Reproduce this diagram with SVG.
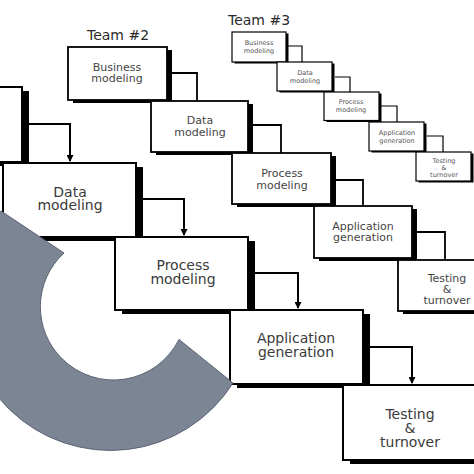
<svg xmlns="http://www.w3.org/2000/svg" width="474" height="474" viewBox="0 0 474 474">
<defs>
<style>
.box1{fill:#fff;stroke:#000;stroke-width:2}
.box2{fill:#fff;stroke:#000;stroke-width:1.8}
.box3{fill:#fff;stroke:#000;stroke-width:1.2}
.sh{fill:#000}
.c1{fill:none;stroke:#000;stroke-width:2}
.c2{fill:none;stroke:#000;stroke-width:1.8}
.c3{fill:none;stroke:#000;stroke-width:1.2}
.t1{font-family:"DejaVu Sans",sans-serif;font-size:14px;fill:#3a3a3a;text-anchor:middle}
.t2{font-family:"DejaVu Sans",sans-serif;font-size:11px;fill:#444;text-anchor:middle}
.t3{font-family:"DejaVu Sans",sans-serif;font-size:6.5px;fill:#555;text-anchor:middle}
.lbl{font-family:"DejaVu Sans",sans-serif;font-size:14px;fill:#2a2a2a}
</style>
<marker id="arr" markerWidth="7" markerHeight="7" refX="6" refY="3.5" orient="auto" markerUnits="userSpaceOnUse">
<path d="M0,0 L7,3.5 L0,7 Z" fill="#000"/>
</marker>
</defs>
<rect width="474" height="474" fill="#fff"/>

<text class="lbl" x="87" y="40">Team #2</text>
<text class="lbl" x="228" y="25">Team #3</text>

<g id="connectors">
<path class="c1" d="M29,124 H70 V161" marker-end="url(#arr)"/>
<path class="c1" d="M143,199 H184 V235" marker-end="url(#arr)"/>
<path class="c1" d="M255,273 H298 V308" marker-end="url(#arr)"/>
<path class="c1" d="M370,347 H412 V383" marker-end="url(#arr)"/>
<path class="c2" d="M171,73 H197 V101"/>
<path class="c2" d="M252,125 H281 V153"/>
<path class="c2" d="M336,180 H363 V206"/>
<path class="c2" d="M417,232 H445 V260"/>
<path class="c3" d="M288,46 H302 V62"/>
<path class="c3" d="M335,77 H350 V92"/>
<path class="c3" d="M381,106 H397 V122"/>
<path class="c3" d="M427,136 H443 V152"/>
</g>

<g id="t1-business">
<rect class="sh" x="-73" y="91" width="102" height="75"/>
<rect class="box1" x="-80" y="87" width="102" height="75"/>
</g>
<g id="t1-data">
<rect class="sh" x="10" y="167" width="133" height="74"/>
<rect class="box1" x="3" y="163" width="133" height="74"/>
<text class="t1" y="197"><tspan x="70">Data</tspan><tspan x="70" dy="13">modeling</tspan></text>
</g>
<g id="t1-process">
<rect class="sh" x="122" y="241" width="133" height="73"/>
<rect class="box1" x="115" y="237" width="133" height="73"/>
<text class="t1" y="270"><tspan x="183">Process</tspan><tspan x="183" dy="14">modeling</tspan></text>
</g>
<g id="t1-application">
<rect class="sh" x="237" y="314" width="133" height="74"/>
<rect class="box1" x="230" y="310" width="133" height="74"/>
<text class="t1" y="343"><tspan x="296">Application</tspan><tspan x="296" dy="14">generation</tspan></text>
</g>
<g id="t1-testing">
<rect class="sh" x="350" y="389" width="160" height="75"/>
<rect class="box1" x="343" y="385" width="160" height="75"/>
<text class="t1" y="419"><tspan x="410">Testing</tspan><tspan x="410" dy="14">&amp;</tspan><tspan x="410" dy="14">turnover</tspan></text>
</g>

<g id="t2-business">
<rect class="sh" x="73" y="50" width="99" height="53"/>
<rect class="box2" x="68" y="47" width="99" height="53"/>
<text class="t2" y="71"><tspan x="117">Business</tspan><tspan x="117" dy="11">modeling</tspan></text>
</g>
<g id="t2-data">
<rect class="sh" x="156" y="104" width="97" height="51"/>
<rect class="box2" x="151" y="101" width="97" height="51"/>
<text class="t2" y="124"><tspan x="200">Data</tspan><tspan x="200" dy="12">modeling</tspan></text>
</g>
<g id="t2-process">
<rect class="sh" x="237" y="156" width="99" height="51"/>
<rect class="box2" x="232" y="153" width="99" height="51"/>
<text class="t2" y="177"><tspan x="282">Process</tspan><tspan x="282" dy="12">modeling</tspan></text>
</g>
<g id="t2-application">
<rect class="sh" x="319" y="209" width="98" height="52"/>
<rect class="box2" x="314" y="206" width="98" height="52"/>
<text class="t2" y="230"><tspan x="363">Application</tspan><tspan x="363" dy="11">generation</tspan></text>
</g>
<g id="t2-testing">
<rect class="sh" x="403" y="263" width="100" height="51"/>
<rect class="box2" x="398" y="260" width="100" height="51"/>
<text class="t2" y="282"><tspan x="447">Testing</tspan><tspan x="447" dy="11">&amp;</tspan><tspan x="447" dy="11">turnover</tspan></text>
</g>

<g id="t3-business">
<rect class="sh" x="234.5" y="33.5" width="54" height="30"/>
<rect class="box3" x="232" y="32" width="54" height="30"/>
<text class="t3" y="45"><tspan x="259">Business</tspan><tspan x="259" dy="8">modeling</tspan></text>
</g>
<g id="t3-data">
<rect class="sh" x="279.5" y="63.5" width="55" height="29"/>
<rect class="box3" x="277" y="62" width="55" height="29"/>
<text class="t3" y="75"><tspan x="305">Data</tspan><tspan x="305" dy="8">modeling</tspan></text>
</g>
<g id="t3-process">
<rect class="sh" x="326.5" y="93.5" width="55" height="28.5"/>
<rect class="box3" x="324" y="92" width="55" height="28.5"/>
<text class="t3" y="104"><tspan x="351">Process</tspan><tspan x="351" dy="7.5">modeling</tspan></text>
</g>
<g id="t3-application">
<rect class="sh" x="371.5" y="123.5" width="55" height="29"/>
<rect class="box3" x="369" y="122" width="55" height="29"/>
<text class="t3" y="135"><tspan x="397">Application</tspan><tspan x="397" dy="7.5">generation</tspan></text>
</g>
<g id="t3-testing">
<rect class="sh" x="418.5" y="153.5" width="55" height="29"/>
<rect class="box3" x="416" y="152" width="55" height="29"/>
<text class="t3" y="163"><tspan x="444">Testing</tspan><tspan x="444" dy="6.5">&amp;</tspan><tspan x="444" dy="7">turnover</tspan></text>
</g>

<g id="cycle-arc">
<path d="M233,383 A145,145 0 0 1 9.5,409.5 A145,145 0 0 1 1,211 L64,253 A73,73 0 0 0 61.9,358.6 A73,73 0 0 0 179,339.4 Z" fill="#7b8594" stroke="#5c6472" stroke-width="1"/>
</g>
</svg>
